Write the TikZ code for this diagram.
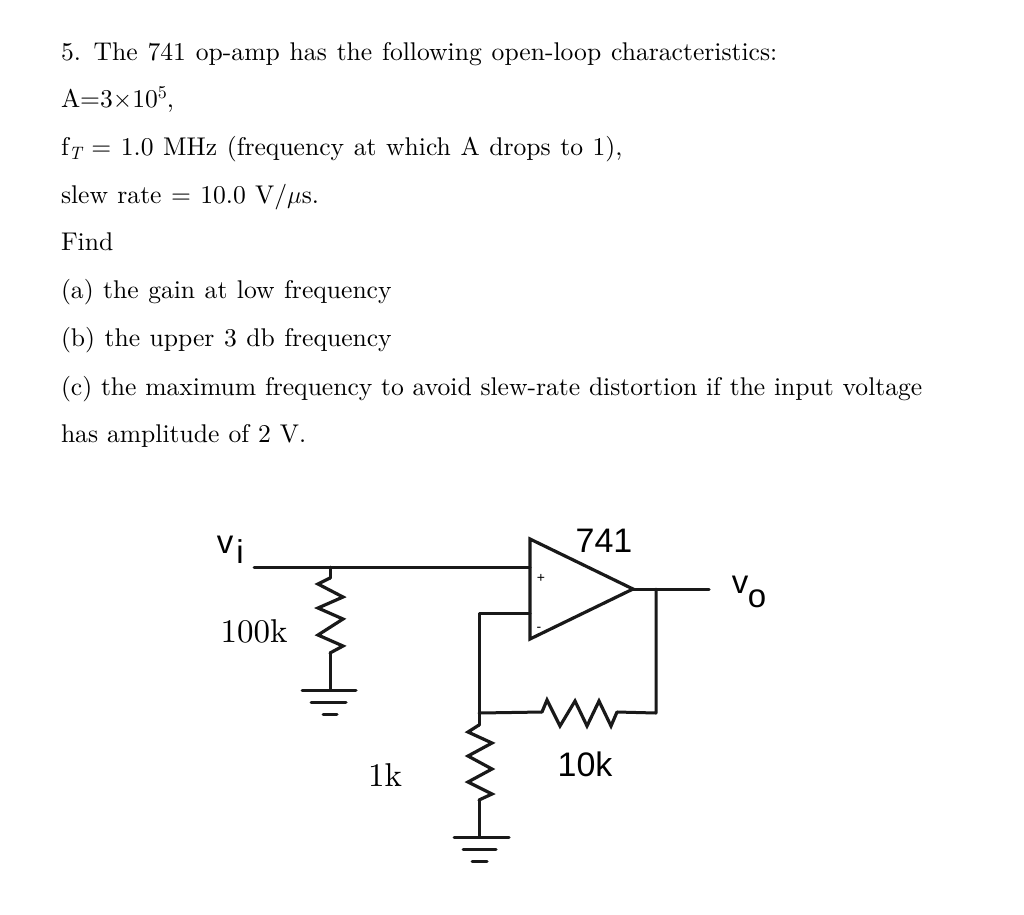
\documentclass[tikz,border=0pt]{standalone}
\usepackage{fontspec}
\newfontfamily\hv{Liberation Sans}
\newfontface\lmten{lmroman10-regular.otf}
\newfontface\lmit{lmroman10-italic.otf}
\newcommand{\supfive}{\raisebox{8.5pt}{\lmten\fontsize{18}{20}\selectfont 5}}
\newcommand{\subT}{\raisebox{-4pt}{\lmit\fontsize{18}{20}\selectfont T}}
\newcommand{\wsp}[1]{\spaceskip=#1pt\relax}
\tikzset{
  txt/.style={anchor=base west,inner sep=0pt,outer sep=0pt,font=\lmten\fontsize{25.6}{28}\selectfont},
  wire/.style={line width=3pt,line join=round,line cap=round,black!90},
  res/.style={line width=3.2pt,line join=miter,line cap=round,black!90},
  amp/.style={line width=3.2pt,line join=miter,black!90},
  lab/.style={inner sep=0pt,outer sep=0pt,anchor=base},
  sym/.style={lab,font=\hv\fontsize{33}{36}\selectfont},
  num/.style={lab,font=\hv\fontsize{34}{36}\selectfont},
  ser/.style={lab,font=\lmten\fontsize{33}{35}\selectfont}
}
\begin{document}
\begin{tikzpicture}[x=1pt,y=-1pt]
\useasboundingbox[fill=white] (0,0) rectangle (1024,914);
% circuit points
\coordinate (in) at (254,567);
\coordinate (j1) at (330,567);
\coordinate (r1a) at (330,578);
\coordinate (r1b) at (330,653);
\coordinate (g1) at (330,690);
\coordinate (ampT) at (530,539);
\coordinate (ampB) at (530,639);
\coordinate (ampO) at (633,589);
\coordinate (plus) at (530,567);
\coordinate (minus) at (530,613);
\coordinate (fbTop) at (479,613);
\coordinate (j2) at (479,713);
\coordinate (j3) at (656,589);
\coordinate (fbR) at (656,713);
\coordinate (out) at (709,589);
\coordinate (r2a) at (542,712);
\coordinate (r2b) at (617,712);
\coordinate (r3a) at (479,725);
\coordinate (r3b) at (479,800);
\coordinate (g2) at (479,837);
% op-amp
\draw[amp] (ampT) -- (ampO) -- (ampB) -- cycle;
% wires
\draw[wire] (in) -- (j1) -- (plus);
\draw[wire] (minus) -- (fbTop) -- (j2);
\draw[wire] (ampO) -- (j3) -- (out);
\draw[wire] (j3) -- (fbR) -- (r2b);
\draw[wire] (j2) -- (r2a);
\draw[wire] (j2) -- (r3a);
\draw[wire] (j1) -- (r1a);
\draw[wire] (r1b) -- (g1);
\draw[wire] (r3b) -- (g2);
% resistors
\draw[res] (r1a) -- (318,584) -- (343,597) -- (318,608) -- (343,619) -- (318,635) -- (343,646) -- (r1b);
\draw[res] (r2a) -- (547,700) -- (560,726) -- (575,701) -- (587,726) -- (599,701) -- (611,726) -- (r2b);
\draw[res] (r3a) -- (468,732) -- (492,743) -- (468,756) -- (492,769) -- (468,782) -- (492,794) -- (r3b);
% grounds
\draw[wire] (302,690) -- (356,690);
\draw[wire] (311,702) -- (346,702);
\draw[wire] (323,714) -- (337,714);
\draw[wire] (454,837) -- (509,837);
\draw[wire] (463,849) -- (496,849);
\draw[wire] (472,861) -- (487,861);
% statement
\node[txt] (l1) at (61,60) {\wsp{9.9}5. The 741 op-amp has the following open-loop characteristics:};
\node[txt] (l2) at (61,107) {A=3$\times$10\supfive,};
\node[txt] (l3) at (61,155) {\wsp{9.6}f\subT\ = 1.0 MHz (frequency at which A drops to 1),};
\node[txt] (l4) at (61,203) {\wsp{9.4}slew rate = 10.0 V/$\mu$s.};
\node[txt] (l5) at (61,250) {Find};
\node[txt] (l6) at (61,298) {\wsp{9.5}(a) the gain at low frequency};
\node[txt] (l7) at (61,346) {\wsp{9.5}(b) the upper 3 db frequency};
\node[txt] (l8) at (61,395) {\wsp{8.75}(c) the maximum frequency to avoid slew-rate distortion if the input voltage};
\node[txt] (l9) at (61,442) {\wsp{9}has amplitude of 2 V.};
% labels
\node[lab,font=\hv\fontsize{14}{15}\selectfont] (pl) at (541,582) {+};
\node[lab,font=\hv\fontsize{14}{15}\selectfont] (mi) at (539,631) {-};
\node[sym] (vi) at (225,553) {v};
\node[sym] (vis) at (240,563) {i};
\node[sym] (vo) at (740,593) {v};
\node[sym] (vos) at (757,607) {o};
\node[num] (u741) at (604,552) {741};
\node[num] (u10k) at (585,776) {10k};
\node[ser] (u100k) at (254,642) {100k};
\node[ser] (u1k) at (385,786) {1k};
\end{tikzpicture}
\end{document}
